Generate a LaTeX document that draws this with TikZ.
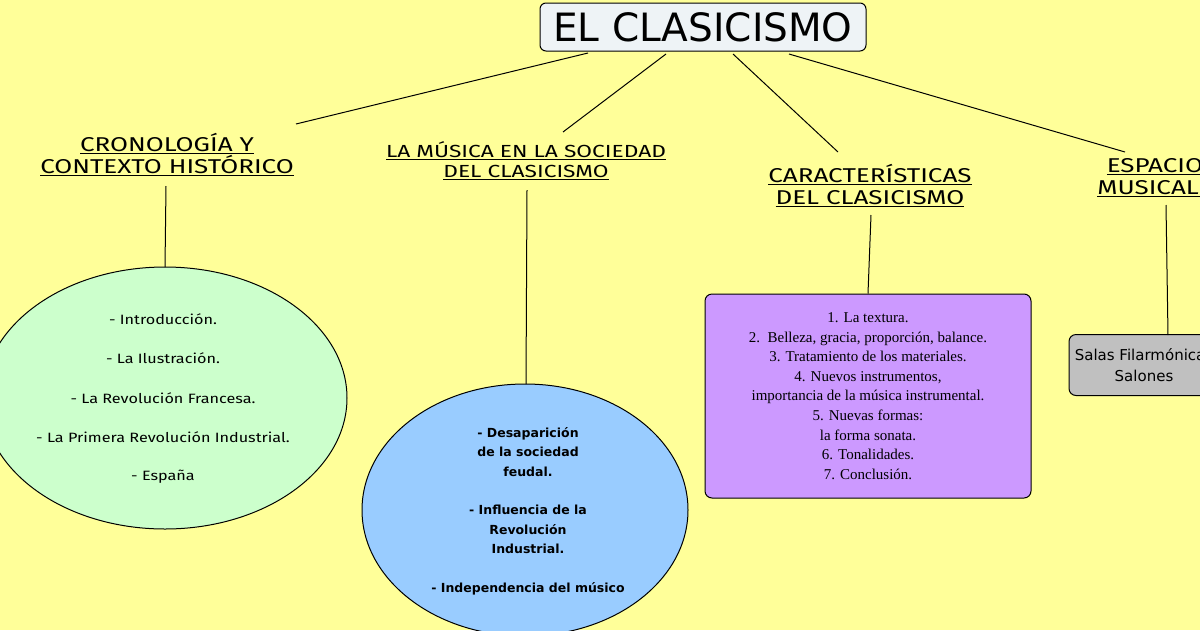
\documentclass[tikz,border=0pt]{standalone}
\usepackage{fontspec}
\setmainfont{Liberation Serif}
\newfontfamily\hand[FakeStretch=1.3]{Fira Sans}
\newfontfamily\handi[FakeStretch=1.2]{Fira Sans}
\newfontfamily\titlef{DejaVu Sans}
\newfontfamily\boldf{DejaVu Sans}
\definecolor{bg}{HTML}{FFFF99}
\definecolor{titlebg}{HTML}{EEF3F6}
\definecolor{green1}{HTML}{CCFFCC}
\definecolor{blue1}{HTML}{99CCFF}
\definecolor{purp}{HTML}{CC99FF}
\definecolor{gray1}{HTML}{C0C0C0}
\tikzset{
 conn/.style={draw=black, line width=1pt},
 head/.style={align=center, font=\hand\fontsize{20}{24}\selectfont, inner sep=1pt},
 item/.style={font=\handi\fontsize{13.5}{15}\selectfont},
}
\newcommand{\ul}[1]{\underline{#1}}
\begin{document}
\begin{tikzpicture}[x=1pt,y=-1pt]
\clip (0,0) rectangle (1200,630);
\fill[bg] (0,0) rectangle (1200,630);
\useasboundingbox (0,0) rectangle (1200,630);
\node[draw, rounded corners=6pt, fill=titlebg, line width=1pt, minimum width=326pt, minimum height=48pt, font=\titlef\fontsize{39}{42}\selectfont] (title) at (703,27) {EL CLASICISMO};
\node[head] (h1) at (167,155) {\ul{CRONOLOGÍA Y}\\[-2pt]\ul{CONTEXTO HISTÓRICO}};
\node[head, font=\hand\fontsize{17.5}{22}\selectfont] (h2) at (526,161) {\ul{LA MÚSICA EN LA SOCIEDAD}\\[-2pt]\ul{DEL CLASICISMO}};
\node[head] (h3) at (870,186) {\ul{CARACTERÍSTICAS}\\[-2pt]\ul{DEL CLASICISMO}};
\node[head] (h4) at (1162,178) {\ul{ESPACIOS}\\[-2pt]\ul{MUSICALES}};
\coordinate (t1) at (588,53); \coordinate (t2) at (666,54);
\coordinate (t3) at (733,54); \coordinate (t4) at (789,54);
\coordinate (e1) at (296,124); \coordinate (e2) at (563,132);
\coordinate (e3) at (838,152); \coordinate (e4) at (1125,152);
\draw[conn] (t1) -- (e1); \draw[conn] (t2) -- (e2);
\draw[conn] (t3) -- (e3); \draw[conn] (t4) -- (e4);
\fill[green1] (165,398) ellipse [x radius=182, y radius=131];
\draw[line width=1pt] (165,398) ellipse [x radius=182, y radius=131];
\coordinate (g) at (165,267);
\node[item] (g1) at (163,319) {- Introducción.};
\node[item] (g2) at (163,358) {- La Ilustración.};
\node[item] (g3) at (163,398) {- La Revolución Francesa.};
\node[item] (g4) at (163,437) {- La Primera Revolución Industrial.};
\node[item] (g5) at (163,477) {- España};
\fill[blue1] (525,510) ellipse [x radius=163, y radius=126];
\draw[line width=1pt] (525,510) ellipse [x radius=163, y radius=126];
\coordinate (b) at (526,384);
\node[align=center, font=\boldf\bfseries\fontsize{12.5}{19.5}\selectfont] (bt) at (528,511) {- Desaparición\\de la sociedad\\feudal.\\[19pt]- Influencia de la\\Revolución\\Industrial.\\[19pt]- Independencia del músico};
\node[draw, rounded corners=7pt, fill=purp, line width=1pt, minimum width=326pt, minimum height=204pt, align=center, font=\fontsize{15}{19.6}\selectfont] (p) at (868,396) {1. La textura.\\2.\ \ Belleza, gracia, proporción, balance.\\3. Tratamiento de los materiales.\\4. Nuevos instrumentos,\\importancia de la música instrumental.\\5. Nuevas formas:\\la forma sonata.\\6. Tonalidades.\\7. Conclusión.};
\node[draw, rounded corners=7pt, fill=gray1, line width=1pt, minimum width=150pt, minimum height=61pt, align=center, font=\boldf\fontsize{15}{21}\selectfont] (s) at (1144,365) {Salas Filarmónicas\\Salones};
\draw[conn] (166,186) -- (g);
\draw[conn] (527,190) -- (b);
\draw[conn] (871,215) -- (p.north);
\draw[conn] (1166,205) -- (1168,335);
\end{tikzpicture}
\end{document}
